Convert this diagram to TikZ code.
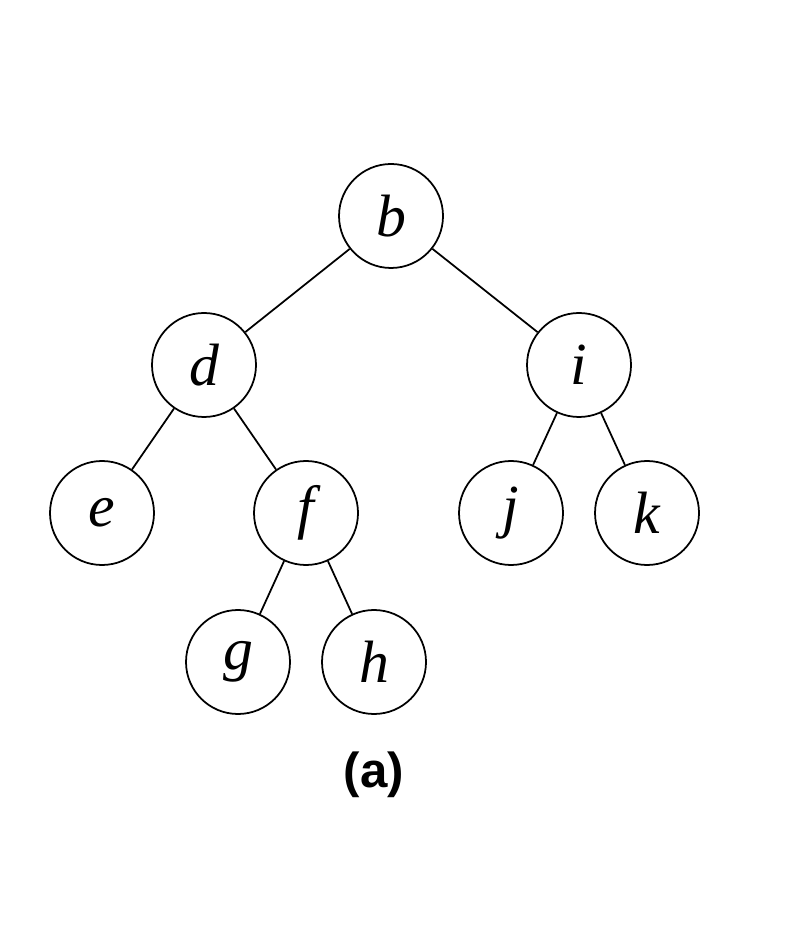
\documentclass[tikz,border=0pt]{standalone}
\usepackage{fontspec}
\setmainfont{Liberation Serif}
\newfontfamily\labfont{Liberation Sans}
\begin{document}
\begin{tikzpicture}[x=0.1mm,y=-0.1mm,
  tn/.style={circle,draw,line width=0.5pt,minimum size=10.4mm,inner sep=0pt,font=\fontsize{17}{20}\selectfont\itshape},
  ed/.style={line width=0.5pt}]
\useasboundingbox (0,0) rectangle (790,930);
\node[tn] (b) at (391,216) {b};
\node[tn] (d) at (204,365) {d};
\node[tn] (i) at (579,365) {i};
\node[tn] (e) at (102,513) {e};
\node[tn] (f) at (306,513) {f};
\node[tn] (j) at (511,513) {j};
\node[tn] (k) at (647,513) {k};
\node[tn] (g) at (238,662) {g};
\node[tn] (h) at (374,662) {h};
\draw[ed] (b) -- (d);
\draw[ed] (b) -- (i);
\draw[ed] (d) -- (e);
\draw[ed] (d) -- (f);
\draw[ed] (f) -- (g);
\draw[ed] (f) -- (h);
\draw[ed] (i) -- (j);
\draw[ed] (i) -- (k);
\node (cap) at (374,775) {\labfont\bfseries\fontsize{14}{17}\selectfont (a)};
\end{tikzpicture}
\end{document}
